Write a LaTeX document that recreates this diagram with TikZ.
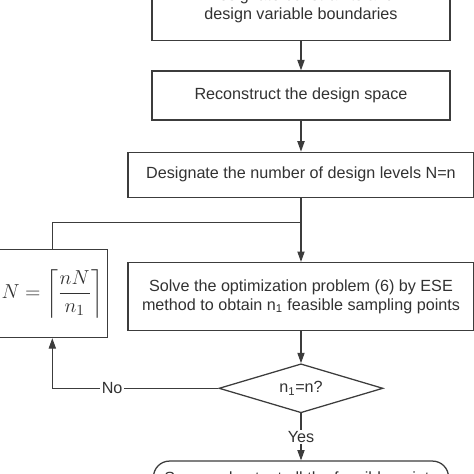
\documentclass[tikz,border=0pt]{standalone}
\usepackage{amsmath}
\usepackage[no-math]{fontspec}
\setmainfont{Liberation Sans}
\usepackage{tikz}
\usetikzlibrary{arrows.meta,positioning,shapes.geometric}
\definecolor{inkgray}{RGB}{50,50,50}
\definecolor{edgegray}{RGB}{60,60,60}
\tikzset{
  procbox/.style={draw=edgegray,line width=0.9pt,fill=white,minimum width=7.45cm,align=center,text=inkgray},
  widebox/.style={procbox,minimum width=8.65cm},
  decide/.style={diamond,aspect=3.3,draw=edgegray,line width=0.9pt,inner sep=1pt,minimum width=4.1cm,minimum height=1.225cm,text=inkgray},
  endbox/.style={procbox,rounded corners=0.4cm,minimum width=7.375cm,minimum height=0.9cm},
  arr/.style={-{Triangle[length=2.6mm,width=1.8mm]},draw=edgegray,line width=0.8pt},
  link/.style={draw=edgegray,line width=0.8pt},
  tag/.style={fill=white,inner sep=1pt,text=inkgray}
}

\begin{document}
\begin{tikzpicture}[font=\fontsize{11.5}{13.8}\selectfont]
  \clip (-7.525,2.3875) rectangle (4.325,-9.4625);
  \node[procbox,minimum height=1.225cm] (recon) at (0,0) {Reconstruct the design space};
  \node[procbox,minimum height=1.75cm,above=0.725cm of recon] (bound) {Designate constraints and\\design variable boundaries};
  \node[widebox,minimum height=1.125cm,below=0.775cm of recon] (levels) {Designate the number of design levels N=n};
  \node[widebox,minimum height=1.7cm,below=1.6cm of levels] (solve) {Solve the optimization problem (6) by ESE\\method to obtain n\textsubscript{1} feasible sampling points};
  \node[decide,below=0.8cm of solve] (check) {n\textsubscript{1}=n?};
  \node[endbox,below=1.175cm of check] (output) {Save and output all the feasible points};
  \node[procbox,minimum width=2.65cm,minimum height=2.2cm,left=0.475cm of solve,yshift=0.075cm,font=\fontsize{15}{18}\selectfont] (update) {$N=\left\lceil\dfrac{nN}{n_1}\right\rceil$};
  \coordinate[below=0.625cm of levels] (join);

  \draw[arr] (bound) -- (recon);
  \draw[arr] (recon) -- (levels);
  \draw[arr] (levels) -- (solve);
  \draw[arr] (solve) -- (check);
  \draw[arr] (check) -- node[tag]{Yes} (output);
  \draw[arr] (check.west) -| node[tag,pos=0.32]{No} (update.south);
  \draw[link] (update.north) |- (join);
\end{tikzpicture}
\end{document}
